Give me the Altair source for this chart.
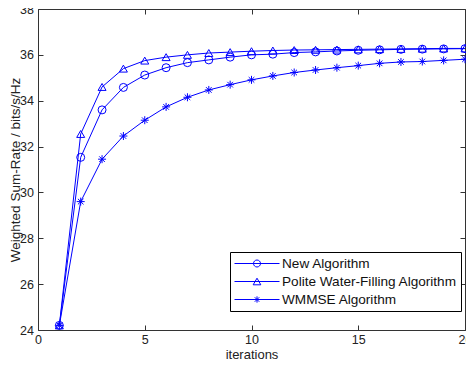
import altair as alt
import pandas as pd

iterations = list(range(1, 21))
new_alg = [24.2, 31.53, 33.6, 34.58, 35.12, 35.44, 35.66, 35.78, 35.9, 36.0,
           36.03, 36.1, 36.13, 36.17, 36.2, 36.22, 36.24, 36.25, 36.26, 36.27]
polite = [24.2, 32.55, 34.6, 35.4, 35.75, 35.9, 36.0, 36.08, 36.12, 36.16,
          36.19, 36.21, 36.22, 36.23, 36.24, 36.25, 36.26, 36.27, 36.28, 36.28]
wmmse = [24.2, 29.6, 31.45, 32.46, 33.15, 33.73, 34.15, 34.47, 34.7, 34.91,
         35.08, 35.23, 35.34, 35.44, 35.53, 35.63, 35.69, 35.71, 35.76, 35.81]
series_names = ["New Algorithm", "Polite Water-Filling Algorithm", "WMMSE Algorithm"]
x_ticks = [0, 5, 10, 15, 20]
y_ticks = [24, 26, 28, 30, 32, 34, 36, 38]

rows = []
for name, vals in zip(series_names, [new_alg, polite, wmmse]):
    for it, v in zip(iterations, vals):
        rows.append({"iteration": it, "rate": v, "series": name})
df = pd.DataFrame(rows)

BLUE = "#0000ff"
FRAME = "#333333"
FONT = "Liberation Sans"
W, H = 427, 321

ast = "M-1,0L1,0M0,-1L0,1M-0.7,-0.7L0.7,0.7M-0.7,0.7L0.7,-0.7"
leg_circle = "M-1,0L1,0M0.156,0A0.156,0.156,0,1,1,-0.156,0A0.156,0.156,0,1,1,0.156,0Z"
leg_tri = "M-1,0L1,0M0,-0.147L-0.17,0.147L0.17,0.147Z"
leg_ast = "M-1,0L1,0M0,-0.14L0,0.14M-0.1,-0.1L0.1,0.1M-0.1,0.1L0.1,-0.1"

x_enc = alt.X("iteration:Q",
              scale=alt.Scale(domain=[0, 20], nice=False, zero=False),
              axis=alt.Axis(values=x_ticks, title="iterations", format="d",
                            labelFont=FONT, labelFontSize=12.5, labelColor="#222",
                            labelFlush=False, labelOverlap=False, labelBound=False,
                            ticks=False, tickSize=0, domain=False, labelPadding=3,
                            grid=True, gridColor=FRAME, gridOpacity=1, gridWidth=1,
                            gridDash=[5, H - 10],
                            titleFont=FONT, titleFontSize=13, titleFontWeight="normal",
                            titleColor="#222", titleY=28, titleBaseline="alphabetic"))
y_enc = alt.Y("rate:Q",
              scale=alt.Scale(domain=[24, 38], nice=False, zero=False),
              axis=alt.Axis(values=y_ticks, title="Weighted Sum-Rate / bits/s/Hz", format="d",
                            labelFont=FONT, labelFontSize=12.5, labelColor="#222",
                            labelFlush=False, labelOverlap=False, labelBound=False,
                            ticks=False, tickSize=0, domain=False, labelPadding=4.5,
                            grid=True, gridColor=FRAME, gridOpacity=1, gridWidth=1,
                            gridDash=[5, W - 10],
                            titleFont=FONT, titleFontSize=13.5, titleFontWeight="normal",
                            titleColor="#222", titleX=-19, titleY=H / 2,
                            titleAngle=270, titleAlign="center", titleBaseline="alphabetic"))

base = alt.Chart(df)

lines = base.mark_line(color=BLUE, strokeWidth=1).encode(
    x=x_enc, y=y_enc, detail="series:N")

points = base.mark_point(filled=False, color=BLUE, strokeWidth=1, opacity=1).encode(
    x=x_enc, y=y_enc,
    shape=alt.Shape("series:N", scale=alt.Scale(domain=series_names,
                                                range=["circle", "triangle-up", ast]),
                    legend=None),
    size=alt.Size("series:N", scale=alt.Scale(domain=series_names, range=[64, 64, 49]),
                  legend=None),
)

legend_layer = base.mark_point(filled=False, color=BLUE, strokeWidth=1, opacity=0, size=2025).encode(
    x=x_enc, y=y_enc,
    shape=alt.Shape("series:N",
                    scale=alt.Scale(domain=series_names, range=[leg_circle, leg_tri, leg_ast]),
                    legend=alt.Legend(orient="none", legendX=192, legendY=243, title=None,
                                      fillColor="white", strokeColor="black", padding=4,
                                      cornerRadius=0, symbolSize=2025, clipHeight=15,
                                      symbolStrokeColor=BLUE, symbolStrokeWidth=1,
                                      symbolOpacity=1, labelFont=FONT, labelFontSize=13.6,
                                      labelColor="#111", labelOffset=2, labelLimit=0,
                                      rowPadding=3)),
)

chart = alt.layer(lines, points, legend_layer).resolve_scale(
    shape="independent", size="independent"
).properties(
    width=W, height=H,
    autosize=alt.AutoSizeParams(type="none"),
    padding={"left": 30, "top": 1, "right": 1, "bottom": 31},
    background="white",
).configure_view(stroke=FRAME, strokeWidth=1)

chart.save("out.html", embed_options={"renderer": "svg", "actions": False})
